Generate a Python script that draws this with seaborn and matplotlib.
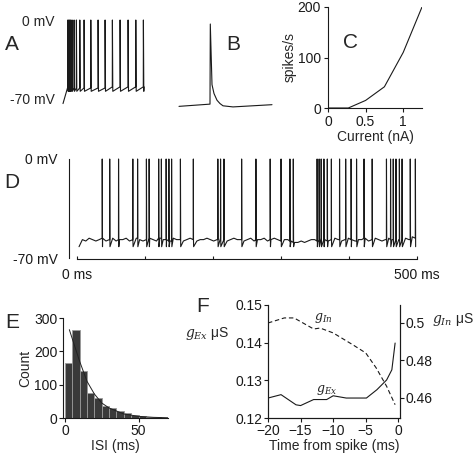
import numpy as np
import matplotlib
matplotlib.use("Agg")
import matplotlib.pyplot as plt
import seaborn as sns

sns.set_theme(style="white")
plt.rcParams['font.family'] = ['Liberation Sans', 'DejaVu Sans']
plt.rcParams['mathtext.fontset'] = 'dejavuserif'

# ---------------- data ----------------
A_base_t = [0, 4.5, 81]
A_base_v = [-75, -61, -60]
A_spikes = [4.7, 5.7, 6.7, 7.7, 9, 11, 13.3, 16.7, 21, 27.7, 35, 42, 49.3, 57, 65, 72.7, 80.3]

B_t = [0, 31, 31.3, 33, 35, 38, 41, 44, 54, 93]
B_v = [-77.5, -75.5, -3.6, -58, -66, -72, -75, -77, -78, -76]

C_current = [0, 0.27, 0.5, 0.75, 1.0, 1.25]
C_rate = [0, 0, 15, 42, 110, 200]

D_base_v = [-62, -57, -58, -56, -57, -58, -57, -56, -58, -57,
            -56, -58, -57, -57, -56, -58, -57, -56, -57, -58,
            -57, -56, -57, -58, -56, -57, -57, -58, -56, -57,
            -57, -58, -57, -56, -57, -58, -57, -57, -56, -57,
            -58, -57, -56, -57, -58, -57, -56, -57, -57, -58,
            -57, -56, -58, -57, -57, -56, -58, -57, -56, -57,
            -58, -57, -57, -58, -59, -59, -58, -59, -58, -57,
            -57, -58, -56, -57, -58, -57, -56, -57, -58, -57,
            -56, -57, -58, -57, -57, -56, -58, -57, -56, -57,
            -58, -57, -56, -57, -58, -57, -57, -56, -57, -55, -56]
D_base_t = list(3 + np.arange(len(D_base_v)) * 4.95)
D_spikes = [37, 48, 61, 82, 89, 102, 106, 120, 124, 131, 135, 139, 152, 171, 207, 211,
            216, 242, 263, 284, 300, 313, 318, 353, 356, 359, 363, 368, 374, 386, 395,
            403, 411, 422, 434, 455, 461, 465, 469, 474, 478, 490, 497.5]

E_edges = [0, 5, 10, 15, 20, 25, 30, 35, 40, 45, 50, 55, 60, 65, 70]
E_counts = [165, 265, 142, 75, 60, 37, 30, 22, 15, 10, 6, 4, 2, 1]
E_fit_x = [3, 10, 15, 20, 25, 30, 40, 50, 60, 72]
E_fit_y = [265, 170, 110, 72, 45, 30, 12, 5, 2, 0.5]

F_ex_t = [-20, -18, -15.7, -15, -13, -11, -10, -8, -4.9, -3.3, -1.8, -1, -0.5]
F_ex_g = [0.1253, 0.1262, 0.1235, 0.1233, 0.1249, 0.1249, 0.1259, 0.1253, 0.1253, 0.1275, 0.1301, 0.1328, 0.1399]
F_in_t = [-20, -17.5, -16, -13, -12, -10, -7, -5, -3.4, -1.8, -0.5]
F_in_g = [0.5, 0.5027, 0.5027, 0.4968, 0.4973, 0.4947, 0.4884, 0.484, 0.476, 0.4662, 0.4564]

# ---------------- helpers ----------------
W, H = 474, 454
fig = plt.figure(figsize=(W / 100, H / 100), dpi=100)


def px_axes(l, t, r, b):
    return fig.add_axes([l / W, 1 - b / H, (r - l) / W, (b - t) / H])


def ftext(x, y, s, **kw):
    fig.text(x / W, 1 - y / H, s, **kw)


def build(base_t, base_v, spikes, peak, ahp):
    pts = list(zip(base_t, base_v))
    bt = np.array(base_t)
    for ts in spikes:
        foot = base_v[int(np.argmin(np.abs(bt - ts)))]
        pts += [(ts, foot), (ts + 0.1, peak), (ts + 0.5, ahp)]
    pts.sort(key=lambda p: p[0])
    return [p[0] for p in pts], [p[1] for p in pts]


def trace_ax(ax):
    for s in ax.spines.values():
        s.set_visible(False)
    ax.set_xticks([])
    ax.set_yticks([])
    ax.set_facecolor('none')


lw = 0.8
TF = 10

# ---------------- A ----------------
axA = px_axes(63, 20, 144, 98)
ta, va = build(A_base_t, A_base_v, A_spikes, 0, -64)
sns.lineplot(x=ta, y=va, sort=False, estimator=None, color='k', lw=lw, ax=axA)
axA.lines[0].set_clip_on(False)
axA.set_xlim(0, 81)
axA.set_ylim(-70, 0)
trace_ax(axA)
axA.set_yticks([-70, 0])
axA.set_yticklabels(['-70 mV', '0 mV'], fontsize=TF)
axA.tick_params(axis='y', length=0, pad=6)

# ---------------- B ----------------
axB = px_axes(179, 20, 272, 98)
sns.lineplot(x=B_t, y=B_v, sort=False, estimator=None, color='k', lw=lw, ax=axB)
axB.lines[0].set_clip_on(False)
axB.set_xlim(0, 93)
axB.set_ylim(-70, 0)
trace_ax(axB)

# ---------------- C ----------------
axC = px_axes(328, 7, 422, 108)
sns.lineplot(x=C_current, y=C_rate, color='k', lw=lw, ax=axC)
axC.set_xlim(0, 1.25)
axC.set_ylim(0, 200)
axC.set_xticks([0, 0.5, 1])
axC.set_xticklabels(['0', '0.5', '1'])
axC.set_yticks([0, 100, 200])
sns.despine(ax=axC)
for s in ['left', 'bottom']:
    axC.spines[s].set_color('k')
    axC.spines[s].set_linewidth(0.8)
axC.tick_params(labelsize=TF, length=3, width=0.8, direction='out', pad=2, colors='k', left=True, bottom=True)
axC.set_xlabel('Current (nA)', fontsize=TF, labelpad=1)
axC.set_ylabel('spikes/s', fontsize=TF, labelpad=1)
axC.set_facecolor('none')

# ---------------- D ----------------
axD = px_axes(77, 159, 417, 258)
td, vd = build(D_base_t, D_base_v, D_spikes, 0, -62)
sns.lineplot(x=td, y=vd, sort=False, estimator=None, color='k', lw=lw, ax=axD)
axD.lines[0].set_clip_on(False)
axD.set_xlim(0, 500)
axD.set_ylim(-70, 0)
axD.set_facecolor('none')
axD.spines['top'].set_visible(False)
axD.spines['right'].set_visible(False)
axD.spines['left'].set_position(('outward', 6))
axD.spines['bottom'].set_position(('outward', 1))
for s in ['left', 'bottom']:
    axD.spines[s].set_color('k')
    axD.spines[s].set_linewidth(0.8)
axD.set_xticks([0, 100, 200, 300, 400, 500])
axD.set_xticklabels(['0 ms', '', '', '', '', '500 ms'])
axD.set_yticks([-70, 0])
axD.set_yticklabels(['-70 mV', '0 mV'])
axD.tick_params(axis='x', direction='in', length=2, width=0.8, labelsize=TF, pad=6, colors='k', bottom=True)
axD.tick_params(axis='y', length=0, labelsize=TF, pad=8, colors='k')

# ---------------- E ----------------
axE = px_axes(63, 318, 168, 418)
centers = [(E_edges[i] + E_edges[i + 1]) / 2 for i in range(len(E_counts))]
sns.histplot(x=centers, weights=E_counts, bins=E_edges, color='#3a3a3a', edgecolor='#9a9a9a',
             linewidth=0.6, alpha=1, ax=axE)
sns.lineplot(x=E_fit_x, y=E_fit_y, color='#222222', lw=0.7, ax=axE)
axE.set_xlim(-1.3, 70)
axE.set_ylim(0, 300)
axE.set_xticks([0, 50])
axE.set_yticks([0, 100, 200, 300])
sns.despine(ax=axE)
for s in ['left', 'bottom']:
    axE.spines[s].set_color('k')
    axE.spines[s].set_linewidth(0.8)
axE.tick_params(labelsize=TF, length=3, width=0.8, pad=1, colors='k', left=True, bottom=True)
axE.set_xlabel('ISI (ms)', fontsize=TF, labelpad=1)
axE.set_ylabel('Count', fontsize=TF, labelpad=1)
axE.set_facecolor('none')

# ---------------- F ----------------
axF = px_axes(268, 305, 400, 418)
sns.lineplot(x=F_ex_t, y=F_ex_g, color='k', lw=lw, ax=axF)
axF.set_xlim(-20, 0.25)
axF.set_ylim(0.12, 0.15)
axF.set_xticks([-20, -15, -10, -5, 0])
axF.set_yticks([0.12, 0.13, 0.14, 0.15])
axF.set_facecolor('none')
axF2 = axF.twinx()
sns.lineplot(x=F_in_t, y=F_in_g, color='k', lw=lw, ax=axF2)
axF2.lines[0].set_dashes([4, 2.5])
axF2.set_ylim(0.4493, 0.5096)
axF2.set_yticks([0.46, 0.48, 0.5])
axF2.set_yticklabels(['0.46', '0.48', '0.5'])
axF2.set_ylabel('')
for a in (axF, axF2):
    a.spines['top'].set_visible(False)
    for s in ['left', 'bottom', 'right']:
        a.spines[s].set_color('k')
        a.spines[s].set_linewidth(0.8)
    a.tick_params(labelsize=TF, length=3, width=0.8, pad=1, colors='k')
axF.tick_params(left=True, bottom=True)
axF2.tick_params(right=True)
axF.set_xlabel('Time from spike (ms)', fontsize=TF, labelpad=1)
axF.set_ylabel('')

# ---------------- texts ----------------
LF = 15
ftext(12, 45, 'A', fontsize=LF, va='center', ha='center')
ftext(233, 45, 'B', fontsize=LF, va='center', ha='center')
ftext(350, 42, 'C', fontsize=LF, va='center', ha='center')
ftext(12, 183, 'D', fontsize=LF, va='center', ha='center')
ftext(12, 322, 'E', fontsize=LF, va='center', ha='center')
ftext(203, 306, 'F', fontsize=LF, va='center', ha='center')
ftext(207, 334, r'$g_{Ex}$ μS', fontsize=TF, va='center', ha='center')
ftext(453, 320, r'$g_{In}$ μS', fontsize=TF, va='center', ha='center')
ftext(323, 318, r'$g_{In}$', fontsize=9, va='center', ha='center')
ftext(327, 390, r'$g_{Ex}$', fontsize=9, va='center', ha='center')

fig.savefig('out.png', dpi=100, facecolor='white')
